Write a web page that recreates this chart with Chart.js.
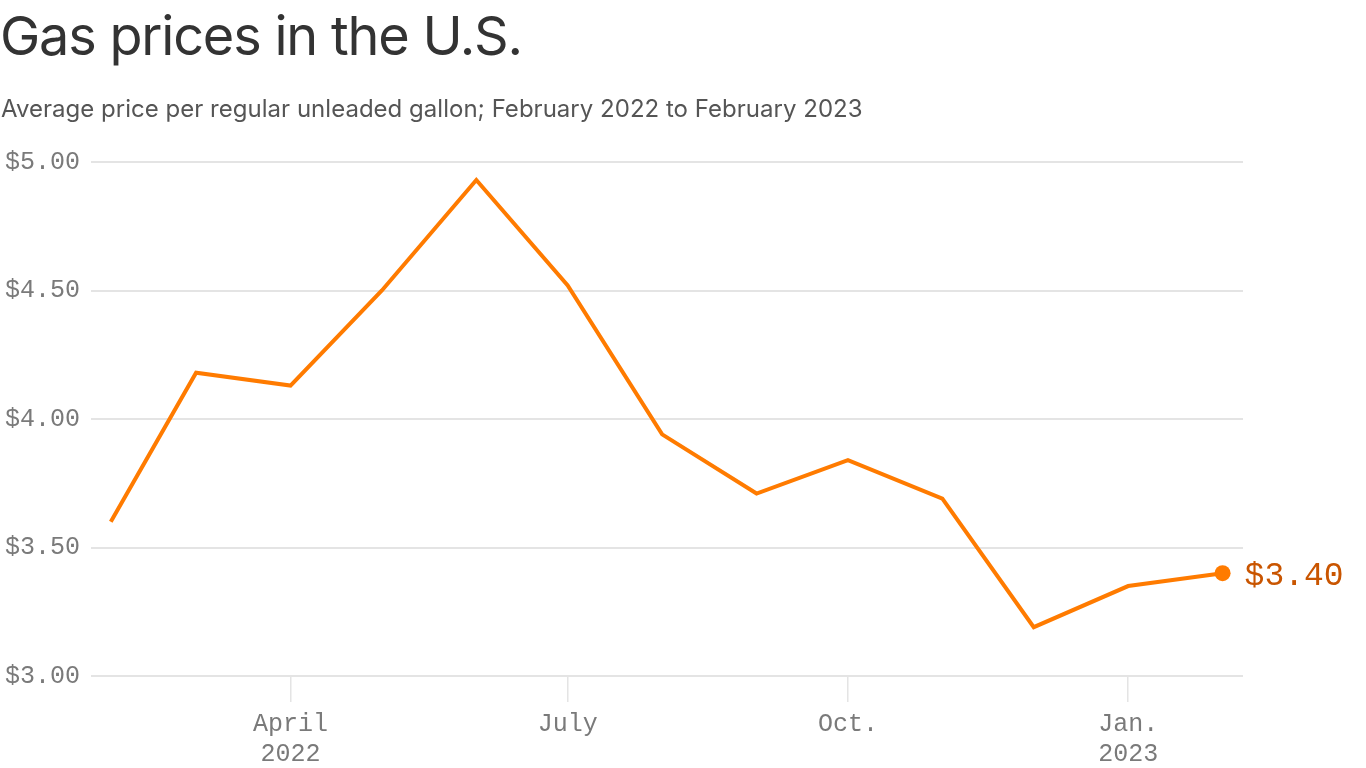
<!DOCTYPE html>
<html>
<head>
<meta charset="utf-8">
<script src="https://cdn.jsdelivr.net/npm/chart.js@4.4.0/dist/chart.umd.min.js"></script>
<style>
  html, body { margin: 0; padding: 0; background: #fff; }
  #wrap { position: relative; width: 1366px; height: 768px; overflow: hidden; }
  #title { position: absolute; left: 0; top: 4px; font-family: Inter, "Noto Sans", sans-serif; font-size: 54px; font-weight: 400; color: #333; letter-spacing: -1.2px; line-height: 64px; white-space: nowrap; }
  #subtitle { position: absolute; left: 1px; top: 94px; font-family: Inter, "Noto Sans", sans-serif; font-size: 24px; color: #555; line-height: 30px; white-space: nowrap; letter-spacing: 0.02px; }
  canvas { position: absolute; left: 0; top: 0; }
</style>
</head>
<body>
<div id="wrap">
  <canvas id="c" width="1366" height="768"></canvas>
  <div id="title">Gas prices in the U.S.</div>
  <div id="subtitle">Average price per regular unleaded gallon; February 2022 to February 2023</div>
</div>
<script>
const dates = ['2022-02-01','2022-03-01','2022-04-01','2022-05-01','2022-06-01','2022-07-01','2022-08-01','2022-09-01','2022-10-01','2022-11-01','2022-12-01','2023-01-01','2023-02-01'];
const prices = [3.60, 4.18, 4.13, 4.50, 4.93, 4.52, 3.94, 3.71, 3.84, 3.69, 3.19, 3.35, 3.40];
const tickDates = ['2022-04-01','2022-07-01','2022-10-01','2023-01-01'];
const tickLabels = [['April','2022'], ['July'], ['Oct.'], ['Jan.','2023']];
const yTicks = [3.0, 3.5, 4.0, 4.5, 5.0];

const DAY = 86400000;
const t0 = Date.parse(dates[0]);
const toDay = d => (Date.parse(d) - t0) / DAY;
const points = dates.map((d, i) => ({ x: toDay(d), y: prices[i] }));
const tickDays = tickDates.map(toDay);
const lastDay = toDay(dates[dates.length - 1]);

const LINE = '#ff7b00';
const LABEL = '#c95500';
const GRID = '#e4e4e4';
const MONO = '"Liberation Mono", "DejaVu Sans Mono", monospace';

const endLabel = {
  id: 'endLabel',
  afterDatasetsDraw(chart) {
    const { ctx, scales } = chart;
    const i = prices.length - 1;
    const x = scales.x.getPixelForValue(points[i].x);
    const y = scales.y.getPixelForValue(points[i].y);
    ctx.save();
    ctx.font = '33px ' + MONO;
    ctx.fillStyle = LABEL;
    ctx.textAlign = 'left';
    ctx.textBaseline = 'middle';
    ctx.fillText('$' + prices[i].toFixed(2), x + 22, y + 3);
    ctx.restore();
  }
};

new Chart(document.getElementById('c'), {
  type: 'line',
  data: {
    datasets: [{
      data: points,
      borderColor: LINE,
      backgroundColor: LINE,
      borderWidth: 4,
      tension: 0,
      pointRadius: ctx => ctx.dataIndex === prices.length - 1 ? 8 : 0,
      pointBorderWidth: 0,
      pointHoverRadius: 0,
      clip: false
    }]
  },
  options: {
    responsive: false,
    animation: false,
    events: [],
    layout: { padding: { left: 5, right: 123, top: 162, bottom: 0 } },
    plugins: { legend: { display: false }, tooltip: { enabled: false }, title: { display: false } },
    scales: {
      x: {
        type: 'linear',
        min: -6.5,
        max: lastDay + 6.7,
        afterBuildTicks: s => { s.ticks = tickDays.map(v => ({ value: v })); },
        afterFit: s => { s.height = 92; },
        border: { display: false },
        grid: { display: true, drawOnChartArea: false, drawTicks: true, tickLength: 26, color: GRID, lineWidth: 1.5 },
        ticks: {
          autoSkip: false,
          maxRotation: 0,
          padding: 7,
          color: '#7a7a7a',
          font: { family: MONO, size: 25, lineHeight: 1.2 },
          callback: v => { const k = tickDays.indexOf(v); return k >= 0 ? tickLabels[k] : ''; }
        }
      },
      y: {
        min: 3,
        max: 5,
        afterBuildTicks: s => { s.ticks = yTicks.map(v => ({ value: v })); },
        afterFit: s => { s.width = 86; },
        border: { display: false },
        grid: { color: GRID, lineWidth: 2, drawTicks: false },
        ticks: {
          crossAlign: 'far',
          padding: 0,
          color: '#7a7a7a',
          font: { family: MONO, size: 25 },
          callback: v => '$' + Number(v).toFixed(2)
        }
      }
    }
  },
  plugins: [endLabel]
});
</script>
</body>
</html>
